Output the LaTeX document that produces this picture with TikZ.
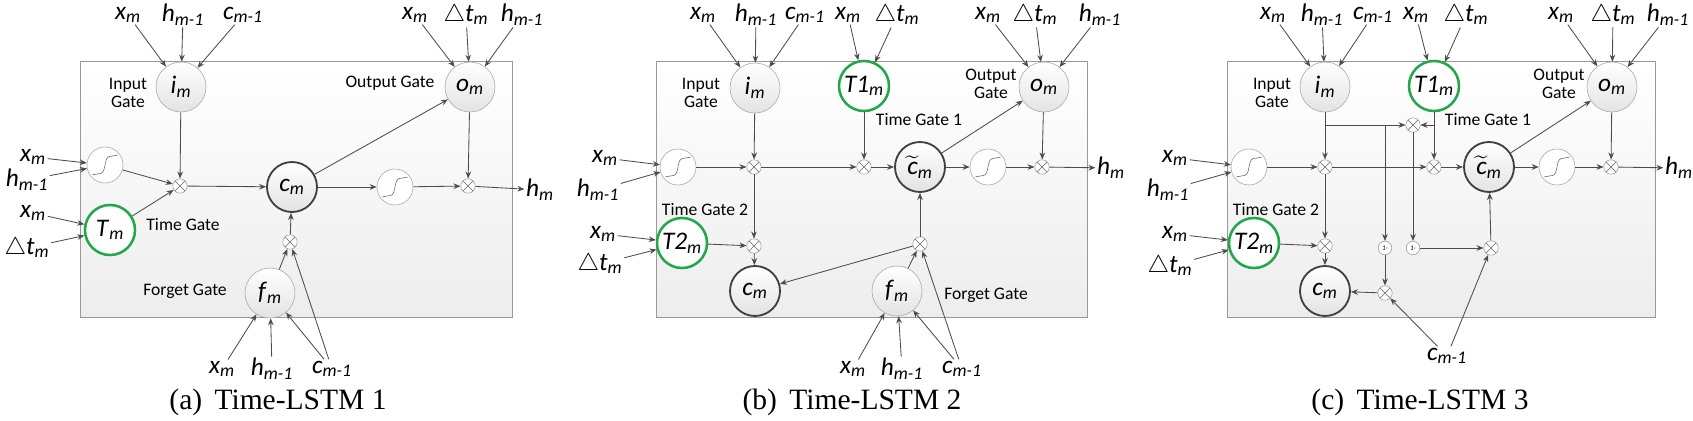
\documentclass[tikz,border=0pt]{standalone}
\usepackage{amsmath}
\usepackage{fontspec}
\setmainfont{Liberation Serif}
\newfontfamily\carl{Carlito}
\usetikzlibrary{arrows.meta}
\newcommand{\vv}[2]{\textit{#1}\textsubscript{\textit{#2}}}
\newcommand{\dt}{\ensuremath{\triangle}\vv{t}{m}}
\newcommand{\ctil}{$\widetilde{\text{\itshape c}}$\textsubscript{\textit{m}}}
\tikzset{
  lf/.style={font=\carl\fontsize{18}{18}\selectfont},
  gate/.style={circle, draw=gray!70, top color=white, bottom color=gray!22, minimum size=1.25cm, inner sep=0pt, lf},
  cell/.style={gate, draw=black!75, line width=1.3pt},
  tgate/.style={circle, draw={rgb,255:red,34;green,168;blue,74}, line width=1.8pt, fill=white, minimum size=1.25cm, inner sep=0pt, lf},
  sig/.style={circle, draw=gray!70, fill=white, minimum size=0.9cm, path picture={
      \draw[gray!80!black] ([xshift=-9pt,yshift=-7pt]path picture bounding box.center) -- ([xshift=-3pt,yshift=-6pt]path picture bounding box.center)
        .. controls ([xshift=1pt,yshift=-5pt]path picture bounding box.center) and ([xshift=-1pt,yshift=5pt]path picture bounding box.center)
        .. ([xshift=3pt,yshift=6pt]path picture bounding box.center) -- ([xshift=9pt,yshift=7pt]path picture bounding box.center);}},
  mul/.style={circle, draw=gray!80, fill=white, minimum size=0.36cm, inner sep=0pt, path picture={
      \draw[gray!80!black] (path picture bounding box.north west) -- (path picture bounding box.south east)
        (path picture bounding box.north east) -- (path picture bounding box.south west);}},
  one/.style={circle, draw=gray!80, fill=white, minimum size=0.34cm, inner sep=0pt, font=\carl\itshape\fontsize{5}{5}\selectfont},
  lbl/.style={inner sep=1pt, lf},
  gl/.style={font=\carl\fontsize{12.5}{13}\selectfont, align=center, inner sep=1pt},
  box/.style={draw=gray!80, top color=white, bottom color=gray!14},
  arr/.style={-{Stealth[length=5pt,width=4pt]}, draw=black!70, line width=0.6pt},
  captxt/.style={font=\fontsize{21}{21}\selectfont},
}
\begin{document}
\begin{tikzpicture}[x=0.025cm, y=-0.025cm]
\useasboundingbox (0,0) rectangle (1693,421);

% ---------------- (a) Time-LSTM 1
\path[box] (80,61) rectangle (512,317);
\node[gate] (ai) at (181,87) {\vv{i}{m}};
\node[gate] (ao) at (470,87) {\vv{o}{m}};
\node[sig] (as1) at (105,165) {};
\node[tgate] (aT) at (110,230) {\vv{T}{m}};
\node[mul] (ax1) at (180,186) {};
\node[cell] (ac) at (292,187) {\vv{c}{m}};
\node[sig] (as2) at (395,187) {};
\node[mul] (ax2) at (468,186) {};
\node[lbl] (ah) at (540,190) {\vv{h}{m}};
\node[mul] (ax3) at (290,242) {};
\node[gate] (af) at (270,293) {\vv{f}{m}};
\node[lbl] (at1) at (128,15) {\vv{x}{m}};
\node[lbl] (at2) at (183,15) {\vv{h}{m-1}};
\node[lbl] (at3) at (243,15) {\vv{c}{m-1}};
\node[lbl] (at4) at (415,15) {\vv{x}{m}};
\node[lbl] (at5) at (466,15) {\dt};
\node[lbl] (at6) at (522,15) {\vv{h}{m-1}};
\node[lbl] (al1) at (33,157) {\vv{x}{m}};
\node[lbl] (al2) at (27,180) {\vv{h}{m-1}};
\node[lbl] (al3) at (33,213) {\vv{x}{m}};
\node[lbl] (al4) at (27,248) {\dt};
\node[lbl] (ab1) at (222,369) {\vv{x}{m}};
\node[lbl] (ab2) at (272,369) {\vv{h}{m-1}};
\node[lbl] (ab3) at (332,369) {\vv{c}{m-1}};
\node[gl] at (128,93) {Input\\Gate};
\node[gl] at (390,83) {Output Gate};
\node[gl] at (183,225) {Time Gate};
\node[gl] at (185,291) {Forget Gate};
\node[captxt] at (278,402) {(a)\, Time-LSTM 1};
\draw[arr] (at1) -- (ai); \draw[arr] (at2) -- (ai); \draw[arr] (at3) -- (ai);
\draw[arr] (at4) -- (ao); \draw[arr] (at5) -- (ao); \draw[arr] (at6) -- (ao);
\draw[arr] (al1) -- (as1); \draw[arr] (al2) -- (as1);
\draw[arr] (al3) -- (aT); \draw[arr] (al4) -- (aT);
\draw[arr] (ai) -- (ax1); \draw[arr] (as1) -- (ax1); \draw[arr] (aT) -- (ax1);
\draw[arr] (ax1) -- (ac); \draw[arr] (ac) -- (as2); \draw[arr] (as2) -- (ax2);
\draw[arr] (ao) -- (ax2); \draw[arr] (ax2) -- (ah); \draw[arr] (ac) -- (ao);
\draw[arr] (af) -- (ax3); \draw[arr] (ax3) -- (ac);
\draw[arr] (ab1) -- (af); \draw[arr] (ab2) -- (af); \draw[arr] (ab3) -- (af);
\draw[arr] (ab3) -- (ax3);

% ---------------- (b) Time-LSTM 2
\path[box] (656,61) rectangle (1087,317);
\node[gate] (bi) at (755,88) {\vv{i}{m}};
\node[tgate] (bT1) at (864,86) {\vv{T1}{m}};
\node[gate] (bo) at (1044,87) {\vv{o}{m}};
\node[sig] (bs1) at (678,167) {};
\node[mul] (bxa) at (754,167) {};
\node[mul] (bxb) at (864,167) {};
\node[cell] (bct) at (920,167) {\ctil};
\node[sig] (bs2) at (988,167) {};
\node[mul] (bxc) at (1042,167) {};
\node[lbl] (bh) at (1111,168) {\vv{h}{m}};
\node[tgate] (bT2) at (682,243) {\vv{T2}{m}};
\node[mul] (bxd) at (754,246) {};
\node[cell] (bc) at (755,291) {\vv{c}{m}};
\node[mul] (bxe) at (920,244) {};
\node[gate] (bf) at (897,291) {\vv{f}{m}};
\node[lbl] (bt1) at (703,15) {\vv{x}{m}};
\node[lbl] (bt2) at (756,15) {\vv{h}{m-1}};
\node[lbl] (bt3) at (805,15) {\vv{c}{m-1}};
\node[lbl] (bt4) at (848,15) {\vv{x}{m}};
\node[lbl] (bt5) at (897,15) {\dt};
\node[lbl] (bt6) at (988,15) {\vv{x}{m}};
\node[lbl] (bt7) at (1035,15) {\dt};
\node[lbl] (bt8) at (1100,15) {\vv{h}{m-1}};
\node[lbl] (bl1) at (605,158) {\vv{x}{m}};
\node[lbl] (bl2) at (598,190) {\vv{h}{m-1}};
\node[lbl] (bl3) at (603,234) {\vv{x}{m}};
\node[lbl] (bl4) at (600,264) {\dt};
\node[lbl] (bb1) at (853,369) {\vv{x}{m}};
\node[lbl] (bb2) at (902,369) {\vv{h}{m-1}};
\node[lbl] (bb3) at (962,369) {\vv{c}{m-1}};
\node[gl] at (701,93) {Input\\Gate};
\node[gl] at (991,84) {Output\\Gate};
\node[gl] at (919,120) {Time Gate 1};
\node[gl] at (705,210) {Time Gate 2};
\node[gl] at (986,295) {Forget Gate};
\node[captxt] at (852,402) {(b)\, Time-LSTM 2};
\draw[arr] (bt1) -- (bi); \draw[arr] (bt2) -- (bi); \draw[arr] (bt3) -- (bi);
\draw[arr] (bt4) -- (bT1); \draw[arr] (bt5) -- (bT1);
\draw[arr] (bt6) -- (bo); \draw[arr] (bt7) -- (bo); \draw[arr] (bt8) -- (bo);
\draw[arr] (bl1) -- (bs1); \draw[arr] (bl2) -- (bs1);
\draw[arr] (bl3) -- (bT2); \draw[arr] (bl4) -- (bT2);
\draw[arr] (bi) -- (bxa); \draw[arr] (bs1) -- (bxa); \draw[arr] (bxa) -- (bxb);
\draw[arr] (bT1) -- (bxb); \draw[arr] (bxb) -- (bct); \draw[arr] (bct) -- (bs2);
\draw[arr] (bs2) -- (bxc); \draw[arr] (bo) -- (bxc); \draw[arr] (bxc) -- (bh);
\draw[arr] (bct) -- (bo);
\draw[arr] (bxa) -- (bxd); \draw[arr] (bT2) -- (bxd); \draw[arr] (bxd) -- (bc);
\draw[arr] (bxe) -- (bc); \draw[arr] (bf) -- (bxe); \draw[arr] (bxe) -- (bct);
\draw[arr] (bb1) -- (bf); \draw[arr] (bb2) -- (bf); \draw[arr] (bb3) -- (bf);
\draw[arr] (bb3) -- (bxe);

% ---------------- (c) Time-LSTM 3
\path[box] (1227,61) rectangle (1655,317);
\node[gate] (ci) at (1325,87) {\vv{i}{m}};
\node[tgate] (cT1) at (1434,86) {\vv{T1}{m}};
\node[gate] (co) at (1612,87) {\vv{o}{m}};
\node[sig] (cs1) at (1249,167) {};
\node[mul] (cxa) at (1325,167) {};
\node[mul] (cxt) at (1413,125) {};
\node[mul] (cxb) at (1434,167) {};
\node[cell] (cct) at (1489,167) {\ctil};
\node[sig] (cs2) at (1557,167) {};
\node[mul] (cxc) at (1611,167) {};
\node[lbl] (ch) at (1679,168) {\vv{h}{m}};
\node[tgate] (cT2) at (1254,243) {\vv{T2}{m}};
\node[mul] (cxd) at (1325,246) {};
\node[cell] (cc) at (1325,291) {\vv{c}{m}};
\node[one] (c1a) at (1385,248) {1-};
\node[one] (c1b) at (1413,248) {1-};
\node[mul] (cxe) at (1491,248) {};
\node[mul] (cxf) at (1385,293) {};
\coordinate (cj1) at (1325,125);
\coordinate (cj2) at (1385,125);
\coordinate (cj3) at (1434,125);
\node[lbl] (cbm) at (1447,356) {\vv{c}{m-1}};
\node[lbl] (ct1) at (1273,15) {\vv{x}{m}};
\node[lbl] (ct2) at (1322,15) {\vv{h}{m-1}};
\node[lbl] (ct3) at (1373,15) {\vv{c}{m-1}};
\node[lbl] (ct4) at (1416,15) {\vv{x}{m}};
\node[lbl] (ct5) at (1466,15) {\dt};
\node[lbl] (ct6) at (1561,15) {\vv{x}{m}};
\node[lbl] (ct7) at (1613,15) {\dt};
\node[lbl] (ct8) at (1668,15) {\vv{h}{m-1}};
\node[lbl] (cl1) at (1175,158) {\vv{x}{m}};
\node[lbl] (cl2) at (1168,190) {\vv{h}{m-1}};
\node[lbl] (cl3) at (1175,234) {\vv{x}{m}};
\node[lbl] (cl4) at (1170,266) {\dt};
\node[gl] at (1272,93) {Input\\Gate};
\node[gl] at (1559,84) {Output\\Gate};
\node[gl] at (1488,120) {Time Gate 1};
\node[gl] at (1276,210) {Time Gate 2};
\node[captxt] at (1420,402) {(c)\, Time-LSTM 3};
\draw[arr] (ct1) -- (ci); \draw[arr] (ct2) -- (ci); \draw[arr] (ct3) -- (ci);
\draw[arr] (ct4) -- (cT1); \draw[arr] (ct5) -- (cT1);
\draw[arr] (ct6) -- (co); \draw[arr] (ct7) -- (co); \draw[arr] (ct8) -- (co);
\draw[arr] (cl1) -- (cs1); \draw[arr] (cl2) -- (cs1);
\draw[arr] (cl3) -- (cT2); \draw[arr] (cl4) -- (cT2);
\draw[arr] (ci) -- (cxa); \draw[arr] (cj1) -- (cxt); \draw[arr] (cj2) -- (c1a);
\draw[arr] (cj3) -- (cxt); \draw[arr] (cxt) -- (c1b);
\draw[arr] (cs1) -- (cxa); \draw[arr] (cxa) -- (cxb); \draw[arr] (cT1) -- (cxb);
\draw[arr] (cxb) -- (cct); \draw[arr] (cct) -- (cs2); \draw[arr] (cs2) -- (cxc);
\draw[arr] (co) -- (cxc); \draw[arr] (cxc) -- (ch); \draw[arr] (cct) -- (co);
\draw[arr] (cxa) -- (cxd); \draw[arr] (cT2) -- (cxd); \draw[arr] (cxd) -- (cc);
\draw[arr] (c1a) -- (cxf); \draw[arr] (cxf) -- (cc);
\draw[arr] (c1b) -- (cxe); \draw[arr] (cxe) -- (cct);
\draw[arr] (cbm) -- (cxf); \draw[arr] (cbm) -- (cxe);
\end{tikzpicture}
\end{document}
